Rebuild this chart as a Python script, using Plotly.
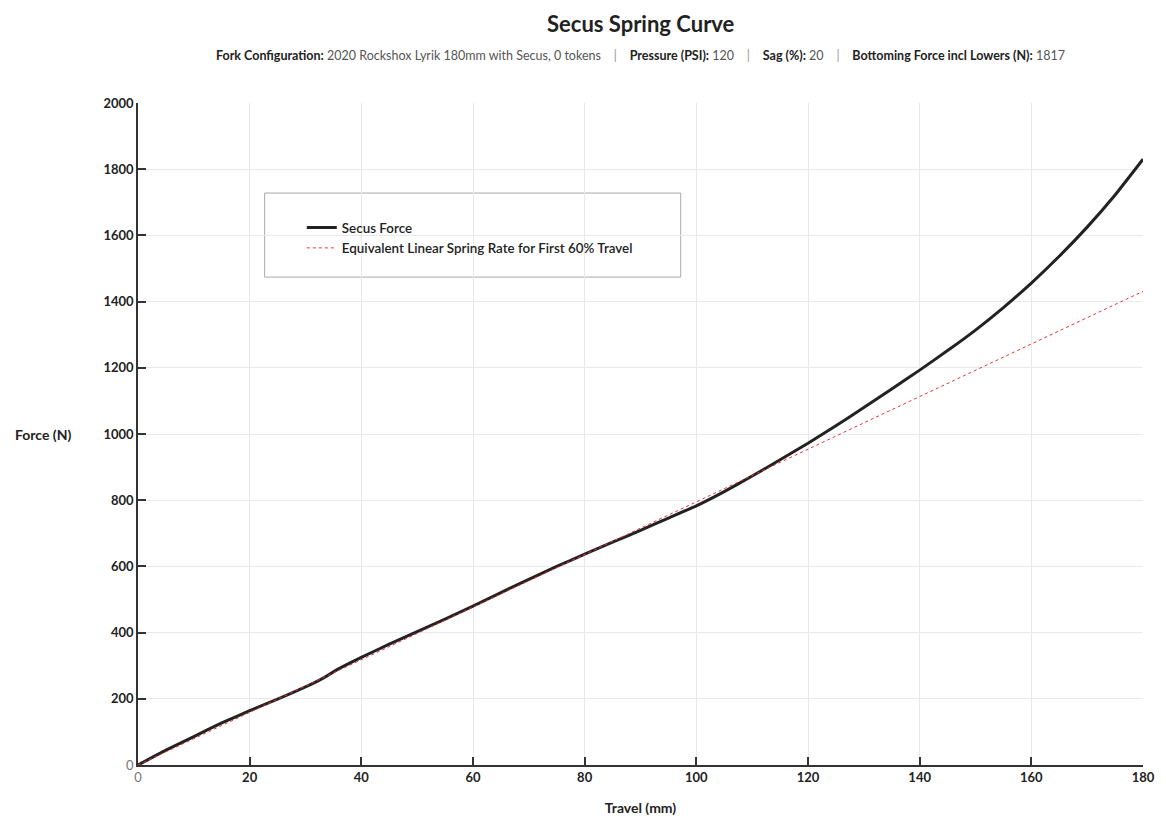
import plotly.graph_objects as go

# travel (mm) and spring force (N)
travel_mm = [0, 5, 10, 15, 20, 25, 30, 33, 36, 40, 45, 50, 55, 60, 65, 70, 75, 80, 85, 90,
             95, 100, 105, 110, 115, 120, 125, 130, 135, 140, 145, 150, 155, 160, 165, 170,
             175, 180]
secus_force = [0, 45, 86, 127, 164, 199, 236, 261, 291, 325, 365, 403, 441, 480, 521, 561,
               600, 637, 673, 709, 746, 783, 826, 873, 922, 972, 1025, 1080, 1136, 1193,
               1252, 1314, 1382, 1456, 1537, 1625, 1722, 1830]

linear_travel = [0, 180]
linear_force = [0, 1431]

x_ticks = [0, 20, 40, 60, 80, 100, 120, 140, 160, 180]
y_ticks = [0, 200, 400, 600, 800, 1000, 1200, 1400, 1600, 1800, 2000]

FONT = "Lato"
DARK = "#222222"


def tick_labels(vals):
    out = []
    for v in vals:
        if v == 0:
            out.append("<span style='color:#777777'>0</span>")
        else:
            out.append(f"<b>{v}</b>")
    return out


fig = go.Figure()
fig.add_trace(go.Scatter(
    x=travel_mm, y=secus_force, mode="lines", name="Secus Force",
    line=dict(color=DARK, width=3, shape="spline", smoothing=0.4),
))
fig.add_trace(go.Scatter(
    x=linear_travel, y=linear_force, mode="lines",
    name="Equivalent Linear Spring Rate for First 60% Travel",
    line=dict(color="#e8303a", width=1, dash="dot"),
))

axis_common = dict(
    showline=True, linecolor="#333333", linewidth=1.5,
    showgrid=True, gridcolor="#e9e9e9", gridwidth=1,
    ticks="inside", ticklen=8, tickcolor="#333333", tickwidth=1.5,
    tickfont=dict(family=FONT, size=13, color=DARK),
    zeroline=False, mirror=False,
)

fig.update_xaxes(
    range=[0, 180], tickmode="array", tickvals=x_ticks, ticktext=tick_labels(x_ticks),
    title=dict(text="<b>Travel (mm)</b>", font=dict(family=FONT, size=14, color=DARK),
               standoff=19),
    **axis_common,
)
fig.update_yaxes(
    range=[0, 2000], tickmode="array", tickvals=y_ticks, ticktext=tick_labels(y_ticks),
    **axis_common,
)

sep = "    <span style='color:#999'>|</span>    "
subtitle = ("<b>Fork Configuration:</b> <span style='color:#555'>2020 Rockshox Lyrik 180mm with Secus, 0 tokens</span>"
            + sep + "<b>Pressure (PSI):</b> <span style='color:#555'>120</span>"
            + sep + "<b>Sag (%):</b> <span style='color:#555'>20</span>"
            + sep + "<b>Bottoming Force incl Lowers (N):</b> <span style='color:#555'>1817</span>")

fig.add_annotation(xref="paper", yref="paper", x=0.5, y=1.0, yshift=95,
                   text="<b>Secus Spring Curve</b>", showarrow=False,
                   font=dict(family=FONT, size=22, color=DARK))
fig.add_annotation(xref="paper", yref="paper", x=0.5, y=1.0, yshift=57,
                   text=subtitle, showarrow=False,
                   font=dict(family=FONT, size=12.5, color=DARK))
fig.add_annotation(xref="paper", yref="paper", x=-0.095, y=0.5,
                   text="<b>Force (N)</b>", showarrow=False, xanchor="center",
                   font=dict(family=FONT, size=14, color=DARK))

# legend frame
fig.add_shape(type="rect", xref="paper", yref="paper",
              x0=0.126, x1=0.54, y0=0.737, y1=0.864,
              line=dict(color="#aaaaaa", width=1), fillcolor="white", layer="below")

fig.update_layout(
    width=1166, height=819,
    margin=dict(l=130, r=31, t=95, b=62),
    plot_bgcolor="white", paper_bgcolor="white",
    font=dict(family=FONT, color=DARK),
    showlegend=True,
    legend=dict(x=0.163, y=0.835, xanchor="left", yanchor="top",
                bgcolor="rgba(0,0,0,0)", borderwidth=0,
                font=dict(family=FONT, size=13.4, color=DARK, weight=600),
                tracegroupgap=0),
)

fig.write_html("out.html")
